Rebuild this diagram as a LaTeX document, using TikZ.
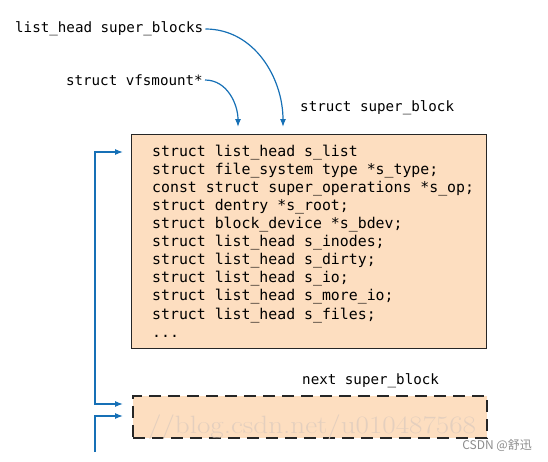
\documentclass[tikz,border=0pt]{standalone}
\usepackage{fontspec}
\setmonofont{DejaVu Sans Mono}
\newfontfamily\cjk{Noto Sans CJK SC}
\usetikzlibrary{arrows.meta}

\definecolor{sbfill}{RGB}{253,222,192}
\definecolor{linkblue}{RGB}{22,112,182}
\definecolor{wmgray}{RGB}{228,207,190}

\tikzset{
    link/.style={draw=linkblue, line width=1.2pt, -{Latex[length=8pt,width=6pt]}},
    twolink/.style={draw=linkblue, line width=1.2pt, {Latex[length=8pt,width=6pt]}-{Latex[length=8pt,width=6pt]}},
    lbl/.style={font=\ttfamily\fontsize{14.2}{17}\selectfont, inner sep=2pt},
    sbbox/.style={draw=black!85, line width=1.2pt, fill=sbfill},
}

\begin{document}
\begin{tikzpicture}[x=1pt,y=-1pt]

    \useasboundingbox (0,0) rectangle (548,461);

    \def \xlist {95}
    \def \xtip {123}

    % struct super_block
    \node[sbbox, anchor=north west, minimum width=355pt, minimum height=214pt, inner sep=0pt] (sb) at (131,134) {};
    \node[anchor=west, align=left, inner sep=0pt, font=\ttfamily\fontsize{14.85}{18.1}\selectfont] (fields) at (152,241) {%
        struct list\_head s\_list\\
        struct file\_system type *s\_type;\\
        const struct super\_operations *s\_op;\\
        struct dentry *s\_root;\\
        struct block\_device *s\_bdev;\\
        struct list\_head s\_inodes;\\
        struct list\_head s\_dirty;\\
        struct list\_head s\_io;\\
        struct list\_head s\_more\_io;\\
        struct list\_head s\_files;\\
        ...};
    \node[lbl, anchor=west] (sbname) at (298,108) {struct super\_block};

    % next super_block (dashed)
    \node[draw=black!85, line width=1.8pt, dash pattern=on 12pt off 7pt, fill=sbfill, anchor=north west,
          minimum width=354pt, minimum height=42pt, inner sep=0pt] (nextsb) at (132,395) {};
    \node[lbl, anchor=west] (nextname) at (300,381) {next super\_block};
    \node[anchor=base west, inner sep=0pt, text=wmgray, font=\fontsize{25}{25}\selectfont] (wm) at (148,433) {\scalebox{1.165}[1]{//blog.csdn.net/u010487568}};

    % pointers from the top
    \node[lbl, anchor=west] (lhead) at (13,29) {list\_head super\_blocks};
    \node[lbl, anchor=east] (vfsm) at (205,80) {struct vfsmount*};
    \coordinate (sbtip) at (283,127);
    \coordinate (vfstip) at (238,127);
    \draw[link] (lhead.east) to[out=0,in=90] (sbtip);
    \draw[link] (vfsm.east) to[out=0,in=90] (vfstip);

    % list links on the left
    \coordinate (sbprev) at (\xtip,152);
    \coordinate (nextprev) at (\xtip,404);
    \coordinate (nextnext) at (\xtip,416);
    \coordinate (listtail) at (\xlist,452);
    \draw[twolink] (sbprev) -- (sbprev -| listtail) -- (nextprev -| listtail) -- (nextprev);
    \draw[link] (listtail) |- (nextnext);

    \node[anchor=east, inner sep=0pt, text=black!45, font=\cjk\fontsize{12}{12}\selectfont] (csdn) at (532,445) {CSDN @舒迅};

\end{tikzpicture}
\end{document}
